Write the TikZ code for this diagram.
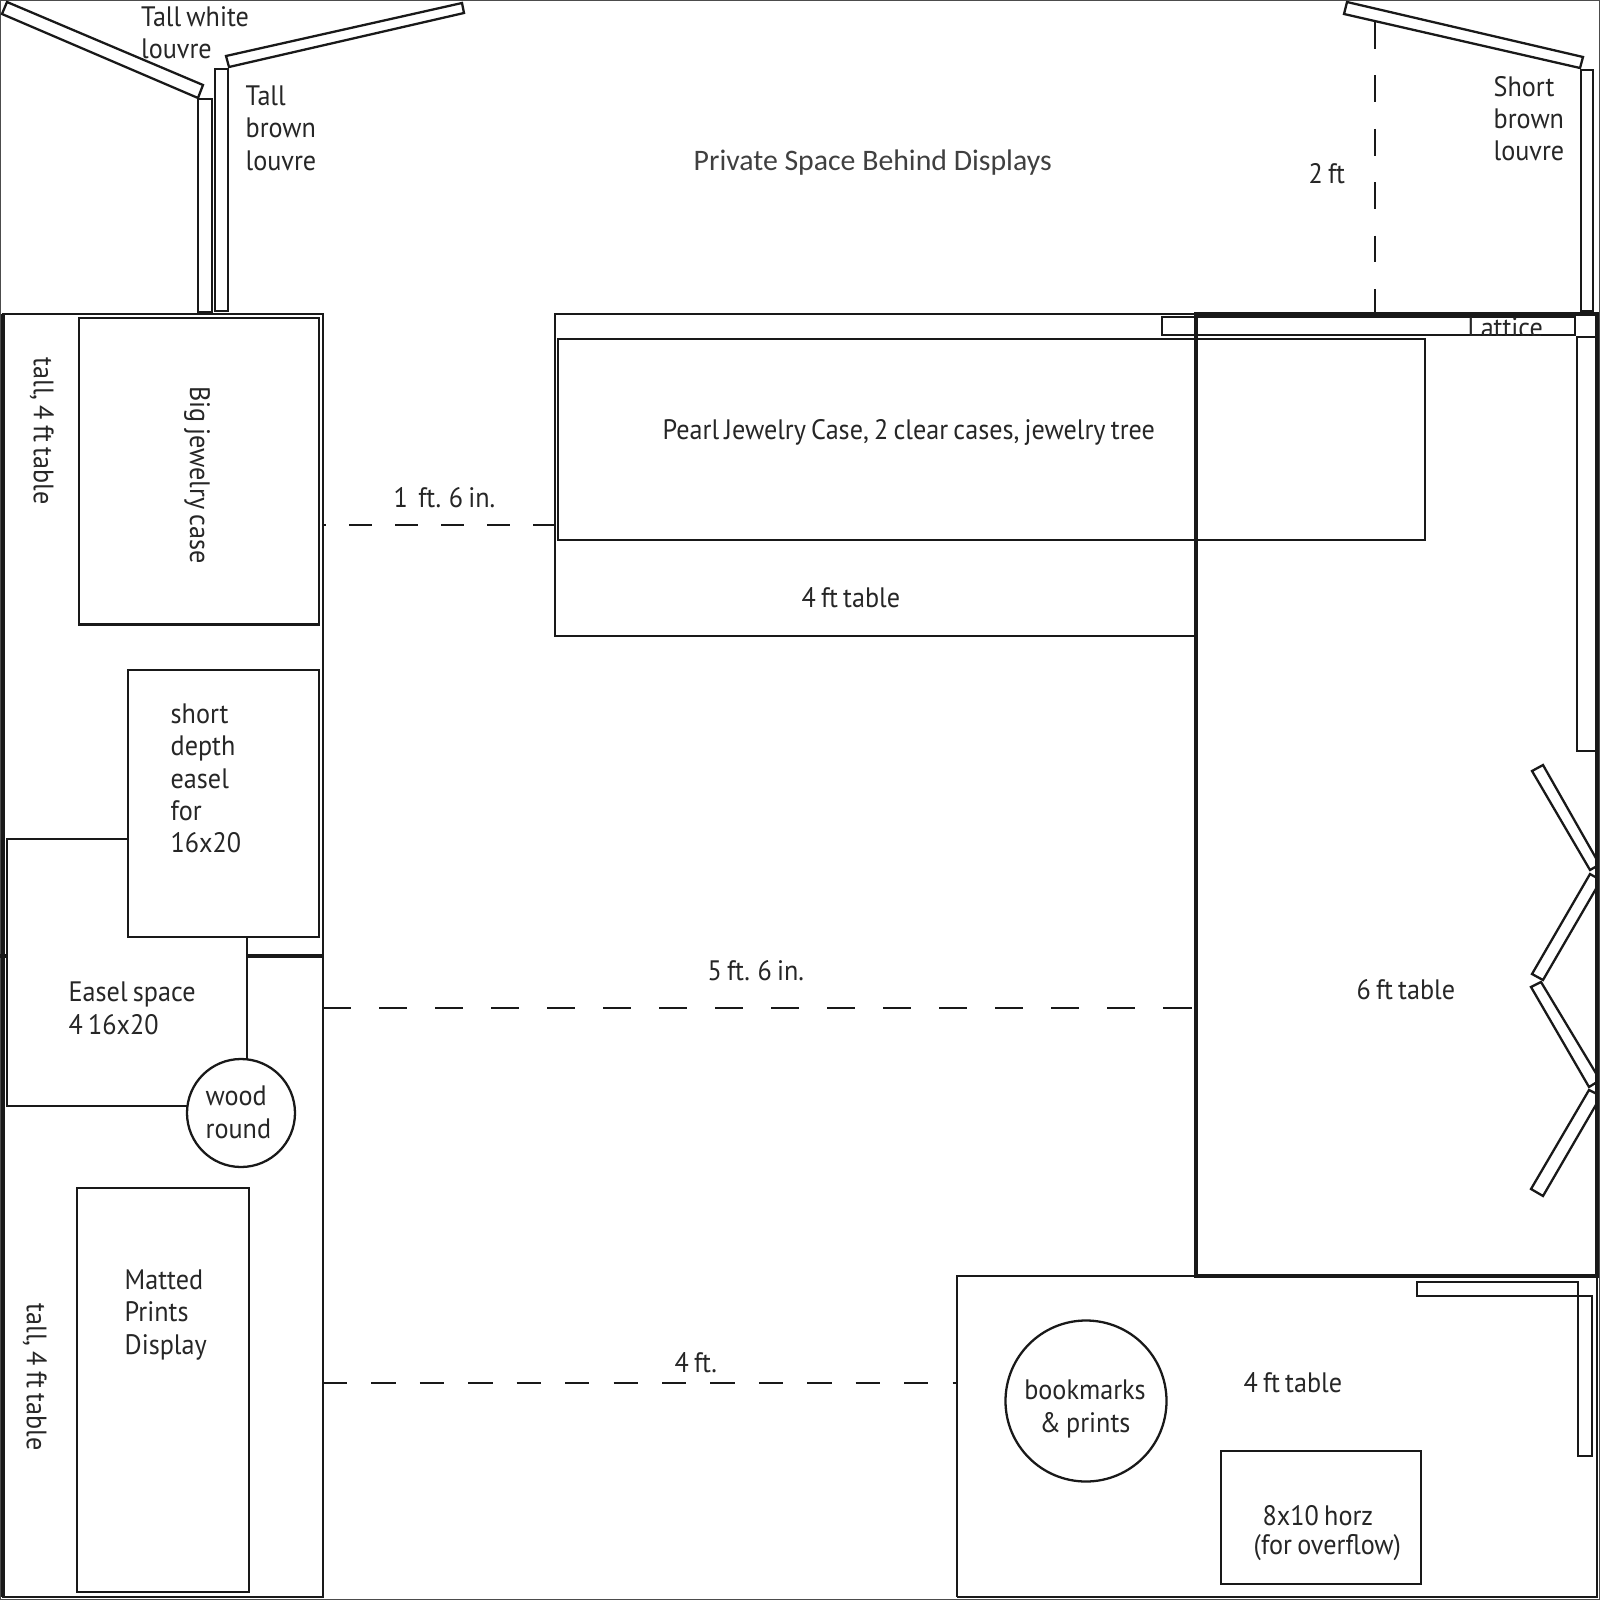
\documentclass[tikz,border=0pt]{standalone}
\usepackage{fontspec}
\setmainfont[FakeStretch=0.93,WordSpace=0.75]{PT Sans}
\newfontfamily\privatefont{Carlito}
\begin{document}
\begin{tikzpicture}[x=0.01cm,y=-0.01cm,
    wall/.style={line width=0.65pt,black!90},
    heavy/.style={line width=0.9pt,black!90},
    measure/.style={line width=0.6pt,black!90},
    lbl/.style={inner sep=0pt,anchor=base west,align=left,text=black!85,font=\fontsize{8}{9.16}\selectfont}]
    \useasboundingbox (0,0) rectangle (1600,1600);

    % Outer frame of the booth
    \draw[line width=0.35pt,black!70] (0.5,0.5) rectangle (1599.5,1599.5);

    % Left side tables and what stands on them
    \draw[line width=0.8pt,black!90] (3,314) rectangle (323,1597);
    \draw[heavy] (3,314) -- (3,1597);
    \draw[wall] (79,318) rectangle (319,624.5);
    \draw[wall] (128,670) rectangle (319,937);
    \draw[heavy] (247,956) -- (323,956) (0,956) -- (7,956);
    \draw[wall] (128,839) -- (7,839) -- (7,1106) -- (187,1106);
    \draw[wall] (247,937) -- (247,1059);
    \draw[wall] (241,1113) circle (54);
    \draw[wall] (77,1188) rectangle (249,1592);

    % Louvres at the top
    \draw[wall] (7,2) -- (203,85) -- (198,98) -- (2,14) -- cycle;
    \draw[wall] (226,56) -- (462,3) -- (464,13) -- (229,67) -- cycle;
    \draw[wall] (198,99) rectangle (212,312);
    \draw[wall] (215,69) rectangle (228,311);
    \draw[wall] (1347,2) -- (1583,57) -- (1580,68) -- (1344,14) -- cycle;
    \draw[wall] (1581,70) rectangle (1593,311);

    % Centre table with the pearl case
    \draw[wall] (555,314) rectangle (1196,636);
    \draw[wall] (558,339) rectangle (1425,540);

    % Right side table
    \draw[heavy] (1196,314) -- (1597,314) -- (1597,1276) -- (1196,1276) -- cycle;
    \draw[wall] (1162,317) rectangle (1575,335);
    \draw[wall] (1577,337) rectangle (1597,751);

    % Folding panels along the right wall
    \foreach \panel in {
        {(1532,771) -- (1543,765) -- (1597,860) -- (1597,866) -- (1590,870)},
        {(1590,874) -- (1597,878) -- (1597,887) -- (1543,980) -- (1532,974)},
        {(1531,987) -- (1541,982) -- (1597,1075) -- (1597,1082) -- (1589,1087)},
        {(1589,1090) -- (1597,1094) -- (1597,1103) -- (1543,1196) -- (1531,1189)}} {
        \draw[wall] \panel -- cycle;
    }

    % Bottom right table
    \draw[wall] (957,1597) -- (957,1276) -- (1196,1276);
    \draw[wall] (957,1597) -- (1597,1597) -- (1597,1276);
    \draw[wall] (1417,1282) rectangle (1578,1296);
    \draw[wall] (1578,1296) rectangle (1592,1456);
    \draw[wall] (1086,1401) circle (80.5);
    \draw[wall] (1221,1451) rectangle (1421,1584);

    % Measured distances
    \draw[measure,dash pattern=on 0.23cm off 0.23cm,dash phase=0.2cm] (323,525) -- (555,525);
    \draw[measure,dash pattern=on 0.28cm off 0.28cm] (323,1008) -- (1196,1008);
    \draw[measure,dash pattern=on 0.242cm off 0.242cm] (323,1383) -- (957,1383);
    \draw[measure,dash pattern=on 0.267cm off 0.267cm] (1375,22) -- (1375,314);

    % Add labels
    \node[lbl] (tallwhite) at (140.5,58.5) {Tall white\\louvre};
    \node[lbl] (tallbrown) at (245,170) {Tall\\brown\\louvre};
    \node[lbl] (shortbrown) at (1493,161) {Short\\brown\\louvre};
    \node[lbl] (twofeet) at (1308,184) {2 ft};
    \node[lbl,text=black!75,font=\fontsize{8.47}{11}\privatefont] (private) at (693,171) {Private Space Behind Displays};
    \node[lbl] (pearl) at (662,439) {Pearl Jewelry Case, 2 clear cases, jewelry tree};
    \node[lbl] (centretable) at (801,607) {4 ft table};
    \node[lbl] (onesix) at (393,507) {1\ \ ft. 6 in.};
    \node[lbl] (fivesix) at (707,980) {5 ft. 6 in.};
    \node[lbl] (fourfeet) at (674,1372) {4 ft.};
    \node[lbl] (righttable) at (1356,999) {6 ft table};
    \node[lbl] (lowertable) at (1243,1392) {4 ft table};
    \node[lbl,align=center,anchor=base] (bookmarks) at (1085,1432) {bookmarks\\\& prints};
    \node[lbl] (horz) at (1262,1525) {8x10 horz};
    \node[lbl] (overflow) at (1253,1554) {(for overflow)};
    \node[lbl] (matted) at (124,1354) {Matted\\Prints\\Display};
    \node[lbl] (shortdepth) at (170,852.5) {short\\depth\\easel\\for\\16x20};
    \node[lbl] (easel) at (68,1034) {Easel space\\4 16x20};
    \node[lbl] (wood) at (205,1138) {wood\\round};
    \node[lbl,rotate=-90] (tallone) at (34,357) {tall, 4 ft table};
    \node[lbl,rotate=-90] (talltwo) at (27,1303) {tall, 4 ft table};
    \node[lbl,rotate=-90] (bigcase) at (190,386) {Big jewelry case};

    % Lattice label is cut off by its own box
    \begin{scope}
        \clip (1462,317) rectangle (1575,335);
        \node[lbl] (lattice) at (1467,337.5) {Lattice};
    \end{scope}
\end{tikzpicture}
\end{document}
